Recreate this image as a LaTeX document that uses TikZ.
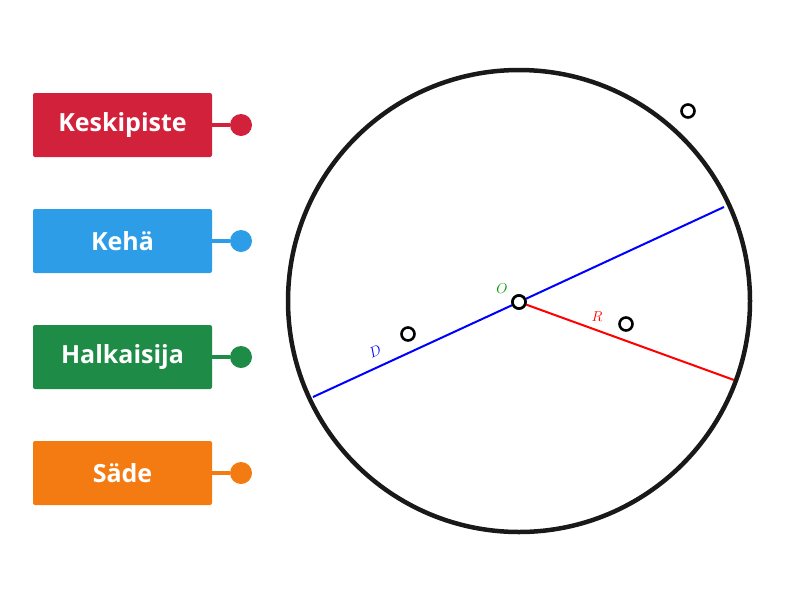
\documentclass[tikz,border=0pt]{standalone}
\usepackage{fontspec}
\setmainfont{Open Sans}
\begin{document}
\begin{tikzpicture}[x=1pt,y=-1pt,
  lbl/.style={fill=#1, text=white, minimum width=179pt, minimum height=64pt, rounded corners=2pt, font=\fontsize{25}{28}\selectfont\bfseries, inner sep=0pt},
  pin/.style={circle, fill=#1, minimum size=22pt, inner sep=0pt},
  dot/.style={circle, draw=black, line width=2.6pt, fill=white, minimum size=13pt, inner sep=0pt}]
\useasboundingbox (0,0) rectangle (800,600);
\definecolor{cr}{HTML}{D2213A}\definecolor{cb}{HTML}{2E9DE8}
\definecolor{cg}{HTML}{1E8B47}\definecolor{co}{HTML}{F47A12}
\foreach \n/\t/\c/\y in {a/Keskipiste/cr/125,b/Kehä/cb/241,c/Halkaisija/cg/357,d/Säde/co/473}{
  \node[lbl=\c] (\n) at (122.5,\y) {\t};
  \node[pin=\c] (p\n) at (241,\y) {};
  \draw[\c, line width=4pt] (\n.east) -- (p\n);
}
\node[circle, draw=black!90, line width=4.5pt, minimum size=462pt, inner sep=0pt] (C) at (519,301) {};
\coordinate (d1) at (313,397); \coordinate (d2) at (724,207); \coordinate (r2) at (734,380);
\node[dot] (O) at (519,302) {};
\draw[blue, line width=2pt] (d1) -- (O) -- (d2);
\draw[red, line width=2pt] (O) -- (r2);
\node[dot] at (519,302) {};
\node[dot] (x1) at (408,334) {};
\node[dot] (x2) at (626,324) {};
\node[dot] (x3) at (688,111) {};
\node[text=green!60!black, font=\Large\itshape] at (502,289) {$O$};
\node[text=red, font=\Large] at (597,317) {$R$};
\node[text=blue, font=\Large, rotate=25] at (375,351) {$D$};
\end{tikzpicture}
\end{document}
